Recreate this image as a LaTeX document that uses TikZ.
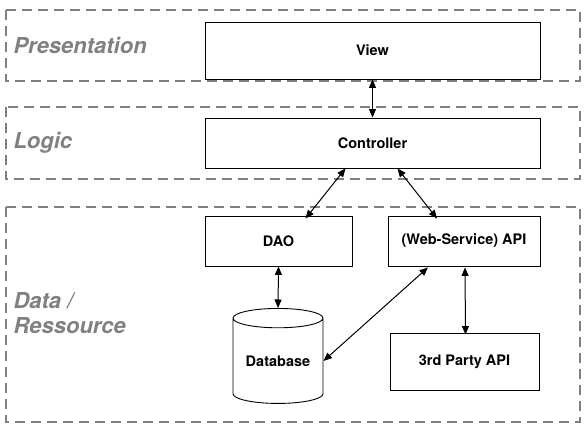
\documentclass[tikz,border=0pt]{standalone}
\usepackage{fontspec}
\setmainfont{TeX Gyre Heros}
\usetikzlibrary{arrows.meta,shapes.geometric}

\begin{document}
\begin{tikzpicture}[x=1pt,y=-1pt,
    layer/.style={draw=gray,line width=1.6pt,dash pattern=on 10pt off 6pt},
    layername/.style={anchor=west,text=gray,font=\fontsize{22}{25}\selectfont\bfseries\itshape,align=left},
    box/.style={draw,line width=0.9pt,font=\fontsize{14.5}{17}\selectfont\bfseries,inner sep=0pt},
    link/.style={{Triangle[length=8.5pt,width=7pt]}-{Triangle[length=8.5pt,width=7pt]},line width=1pt}]
        \useasboundingbox(0,0)rectangle(586,430);
        \draw[layer](6,10)rectangle(580,81);
        \draw[layer](6,107)rectangle(580,179);
        \draw[layer](6,207)rectangle(580,422);
        \node[layername](presentation)at(10,45){Presentation};
        \node[layername](logic)at(10,143){Logic};
        \node[layername](data)at(10,313){Data /\\Ressource};

        \node[box,minimum width=335pt,minimum height=57pt](view)at(372.5,50.5){View};
        \node[box,minimum width=335pt,minimum height=50pt](ctrl)at(372.5,143){Controller};
        \node[box,minimum width=147pt,minimum height=50pt](dao)at(278.5,241){DAO};
        \node[box,minimum width=152pt,minimum height=50pt](api)at(464,241){(Web-Service) API};
        \node[box,minimum width=149pt,minimum height=57pt](third)at(464.5,361.5){3rd Party API};
        \node[box,cylinder,shape border rotate=90,aspect=0.3,minimum width=90pt,minimum height=95pt](db)at(278,361){Database};

        \draw[link](view.south)--(ctrl.north);
        \draw[link]([xshift=-27pt]ctrl.south)--([xshift=27pt,yshift=-3pt]dao.north);
        \draw[link]([xshift=25pt]ctrl.south)--([xshift=-27pt,yshift=-3pt]api.north);
        \draw[link](dao.south)--(db.north);
        \draw[link]([xshift=-36pt,yshift=-1pt]api.south)--(db.east);
        \draw[link]([xshift=1pt,yshift=-1pt]api.south)--([xshift=1pt,yshift=-2pt]third.north);
    \end{tikzpicture}
\end{document}
